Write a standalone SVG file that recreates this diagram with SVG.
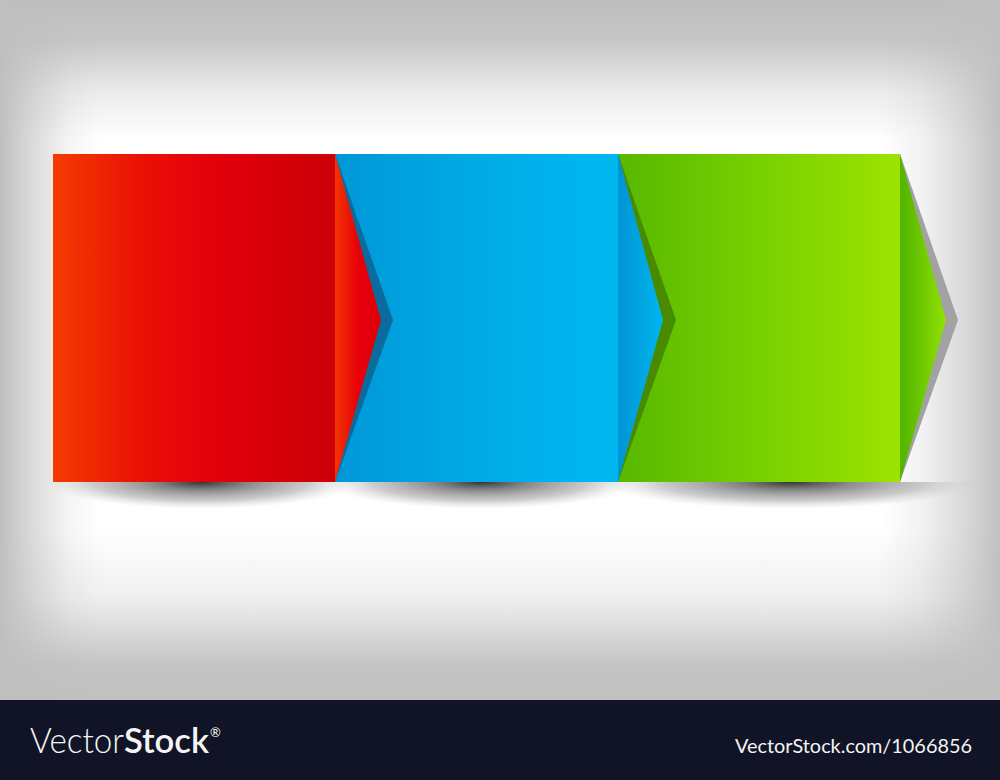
<svg xmlns="http://www.w3.org/2000/svg" width="1000" height="780" viewBox="0 0 1000 780">
  <defs>
    <linearGradient id="bgTop" x1="0" y1="0" x2="0" y2="1">
      <stop offset="0" stop-color="#bdbdbd" stop-opacity="1"/>
      <stop offset="0.3" stop-color="#bdbdbd" stop-opacity="0.85"/>
      <stop offset="0.65" stop-color="#bdbdbd" stop-opacity="0.3"/>
      <stop offset="1" stop-color="#bdbdbd" stop-opacity="0"/>
    </linearGradient>
    <linearGradient id="bgBottom" x1="0" y1="0" x2="0" y2="1">
      <stop offset="0" stop-color="#c0c0c0" stop-opacity="0"/>
      <stop offset="0.4" stop-color="#c0c0c0" stop-opacity="0.25"/>
      <stop offset="0.8" stop-color="#c0c0c0" stop-opacity="0.95"/>
      <stop offset="1" stop-color="#c0c0c0" stop-opacity="1"/>
    </linearGradient>
    <linearGradient id="bgLeft" x1="0" y1="0" x2="1" y2="0">
      <stop offset="0" stop-color="#bfbfbf" stop-opacity="1"/>
      <stop offset="0.3" stop-color="#bfbfbf" stop-opacity="0.6"/>
      <stop offset="0.7" stop-color="#bfbfbf" stop-opacity="0.15"/>
      <stop offset="1" stop-color="#bfbfbf" stop-opacity="0"/>
    </linearGradient>
    <linearGradient id="bgRight" x1="0" y1="0" x2="1" y2="0">
      <stop offset="0" stop-color="#c0c0c0" stop-opacity="0"/>
      <stop offset="0.35" stop-color="#c0c0c0" stop-opacity="0.2"/>
      <stop offset="0.7" stop-color="#c0c0c0" stop-opacity="0.6"/>
      <stop offset="1" stop-color="#c0c0c0" stop-opacity="1"/>
    </linearGradient>

    <radialGradient id="shadow" cx="0" cy="0" r="1" gradientTransform="translate(0.5 0) scale(0.5 1)">
      <stop offset="0" stop-color="#333333" stop-opacity="1"/>
      <stop offset="0.3" stop-color="#727272" stop-opacity="0.85"/>
      <stop offset="0.7" stop-color="#aaaaaa" stop-opacity="0.6"/>
      <stop offset="1" stop-color="#d0d0d0" stop-opacity="0"/>
    </radialGradient>

    <linearGradient id="redBox" x1="0" y1="0" x2="1" y2="0">
      <stop offset="0" stop-color="#f33c00"/>
      <stop offset="0.3" stop-color="#eb1205"/>
      <stop offset="0.55" stop-color="#e4000a"/>
      <stop offset="1" stop-color="#cb0008"/>
    </linearGradient>
    <linearGradient id="redTab" x1="0" y1="0" x2="1" y2="0">
      <stop offset="0" stop-color="#f33400"/>
      <stop offset="0.5" stop-color="#e6000a"/>
      <stop offset="1" stop-color="#e0000a"/>
    </linearGradient>
    <linearGradient id="blueBox" x1="0" y1="0" x2="1" y2="0">
      <stop offset="0" stop-color="#0097d7"/>
      <stop offset="0.5" stop-color="#00abe6"/>
      <stop offset="1" stop-color="#00b7f0"/>
    </linearGradient>
    <linearGradient id="blueTab" x1="0" y1="0" x2="1" y2="0">
      <stop offset="0" stop-color="#0094d4"/>
      <stop offset="1" stop-color="#00b6f0"/>
    </linearGradient>
    <linearGradient id="greenBox" x1="0" y1="0" x2="1" y2="0">
      <stop offset="0" stop-color="#57b800"/>
      <stop offset="0.5" stop-color="#78d000"/>
      <stop offset="1" stop-color="#9ce300"/>
    </linearGradient>
    <linearGradient id="greenTab" x1="0" y1="0" x2="1" y2="0">
      <stop offset="0" stop-color="#50b300"/>
      <stop offset="1" stop-color="#90e100"/>
    </linearGradient>
  </defs>
  <style>
    .shadow { fill: url(#shadow); }
    .brand { fill: #f4f4f4; font-family: Lato, "Open Sans", "Liberation Sans", sans-serif; }
  </style>

  <g id="background">
    <rect x="0" y="0" width="1000" height="700" fill="#ffffff"/>
    <rect x="0" y="0" width="1000" height="140" fill="url(#bgTop)"/>
    <rect x="0" y="530" width="1000" height="170" fill="url(#bgBottom)"/>
    <rect x="0" y="0" width="100" height="700" fill="url(#bgLeft)"/>
    <rect x="880" y="0" width="120" height="700" fill="url(#bgRight)"/>
  </g>

  <g id="shadows">
    <path class="shadow" d="M46,482 A155,27 0 0 0 356,482 Z"/>
    <path class="shadow" d="M326,482 A155,27 0 0 0 636,482 Z"/>
    <path class="shadow" d="M603,482 A188,27 0 0 0 979,482 Z"/>
  </g>

  <g id="step1">
    <rect x="53" y="154" width="282" height="328" fill="url(#redBox)"/>
  </g>
  <g id="step2">
    <rect x="335" y="154" width="283" height="328" fill="url(#blueBox)"/>
  </g>
  <g id="step3">
    <rect x="618" y="154" width="282" height="328" fill="url(#greenBox)"/>
  </g>

  <g id="tabs">
    <polygon points="335,154 393,320 335,482" fill="#0a6b9c"/>
    <polygon points="335,154 381,320 335,482" fill="url(#redTab)"/>
    <polygon points="618,154 676,320 618,482" fill="#4a8a00"/>
    <polygon points="618,154 663,320 618,482" fill="url(#blueTab)"/>
    <polygon points="900,154 958,320 900,482" fill="#a2a2a2"/>
    <polygon points="900,154 946,320 900,482" fill="url(#greenTab)"/>
  </g>

  <g id="footer">
    <rect x="0" y="700" width="1000" height="80" fill="#111427"/>
    <text class="brand" x="30" y="753" font-size="35" font-weight="300" textLength="94" lengthAdjust="spacingAndGlyphs">Vector</text>
    <text class="brand" x="124" y="753" font-size="35" font-weight="600" textLength="85" lengthAdjust="spacingAndGlyphs">Stock</text>
    <text class="brand" x="210" y="737" font-size="13" font-weight="400">®</text>
    <text class="brand" x="735" y="753" font-size="20" font-weight="400" textLength="237" lengthAdjust="spacingAndGlyphs">VectorStock.com/1066856</text>
  </g>
</svg>
